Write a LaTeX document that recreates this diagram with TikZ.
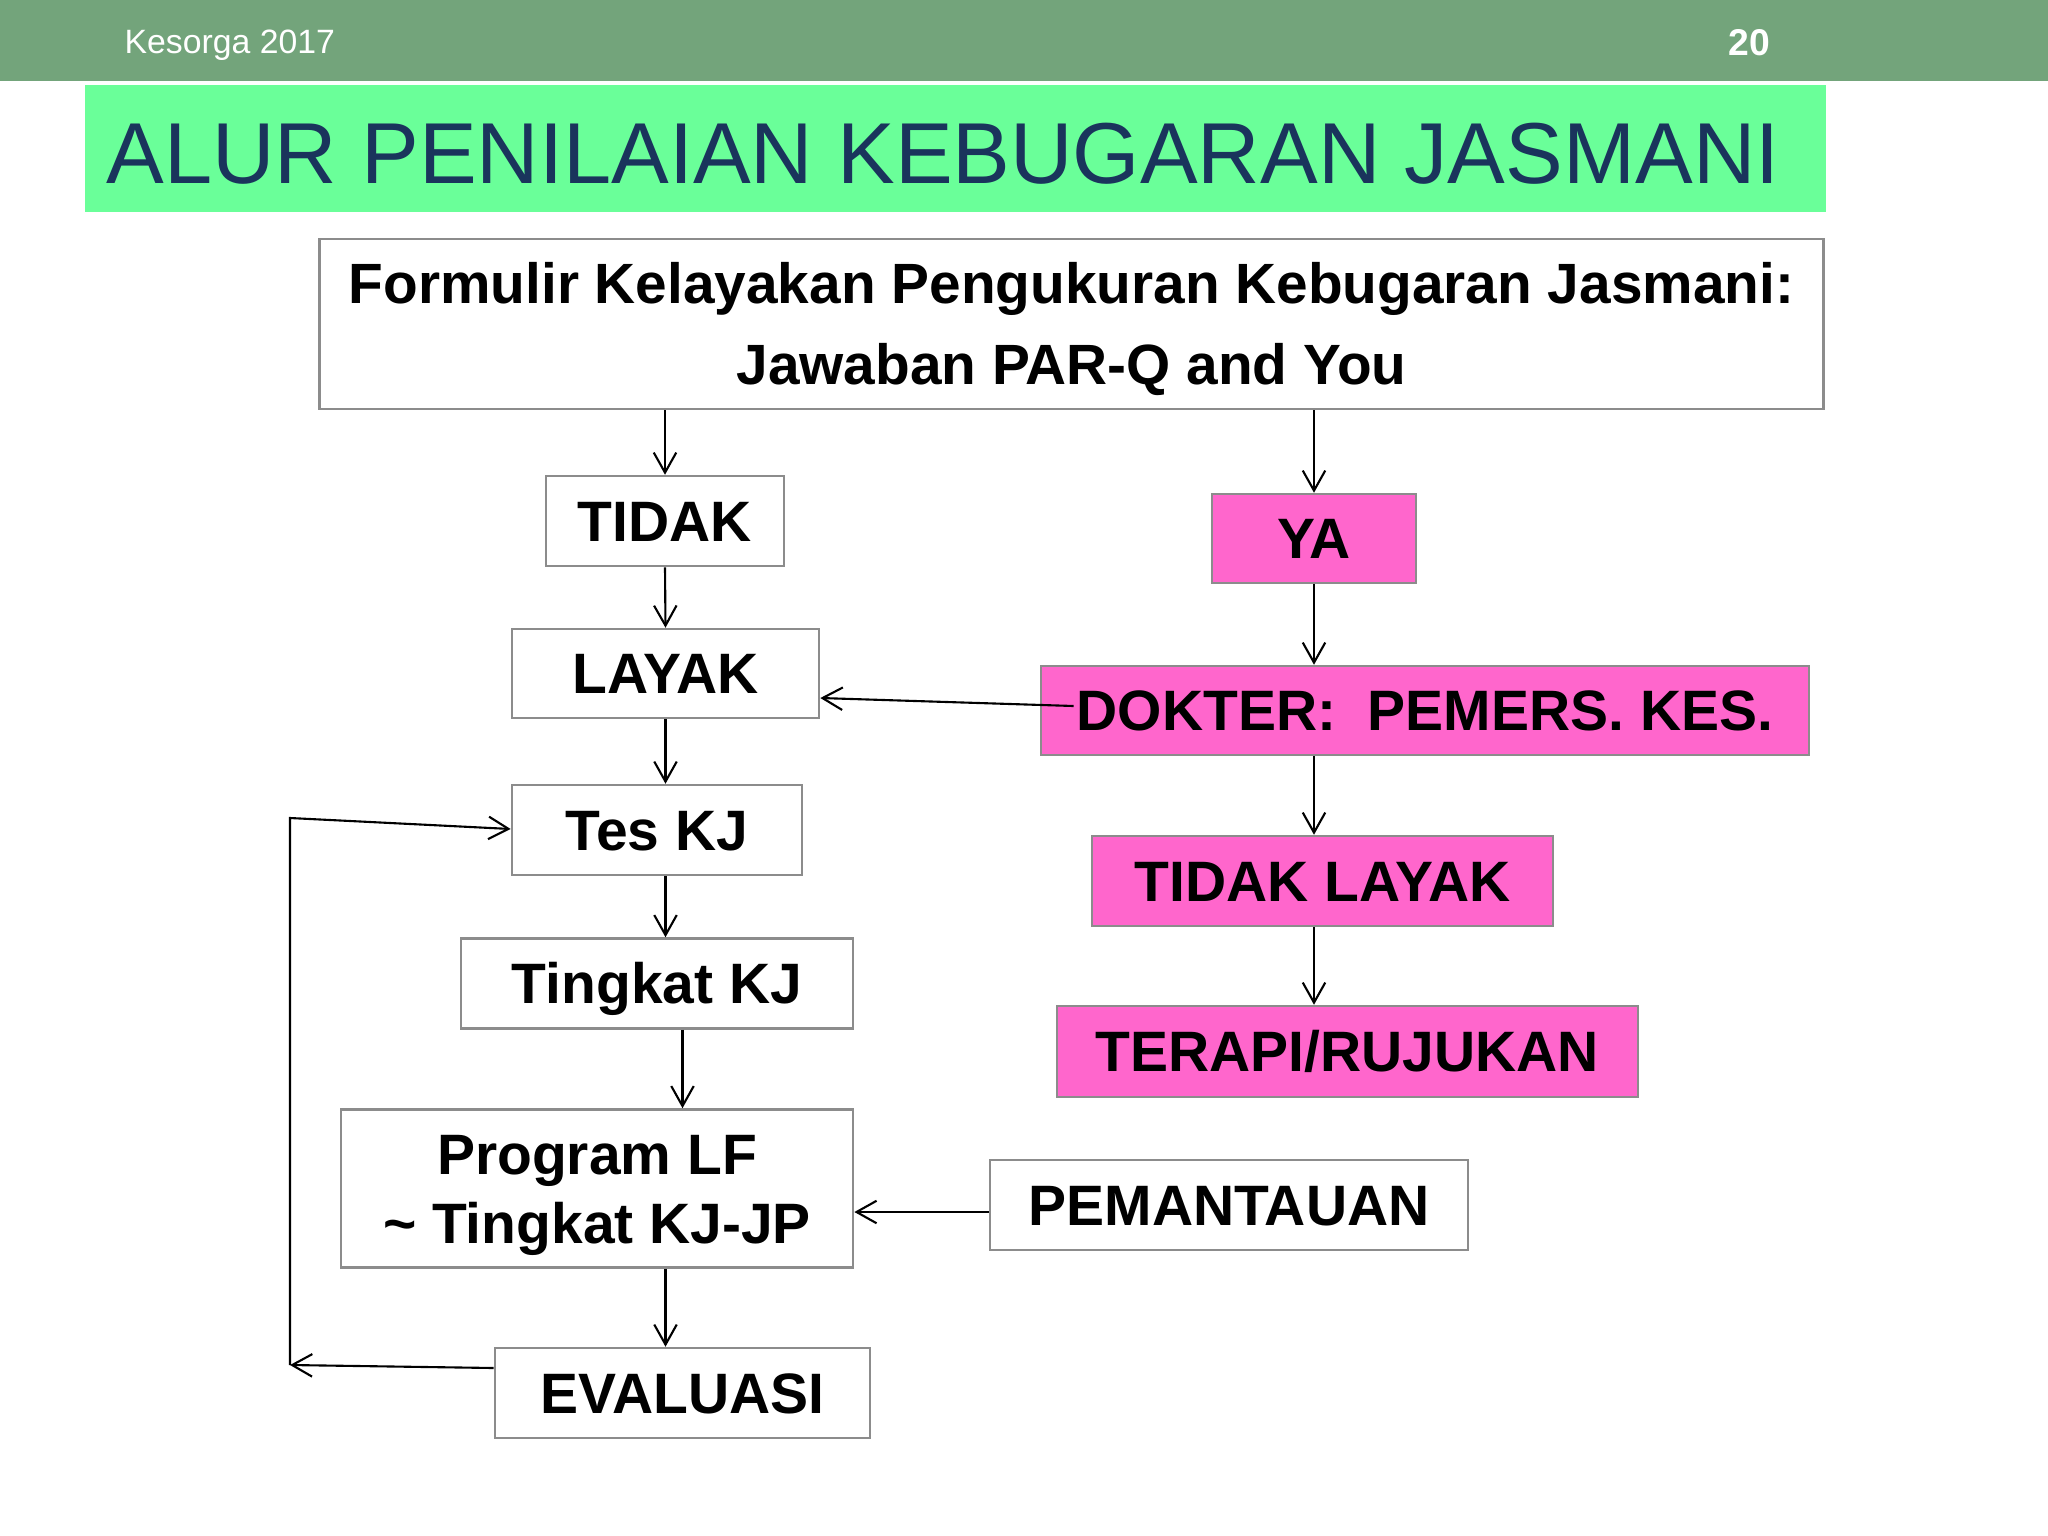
\documentclass[tikz,border=0pt]{standalone}
\usepackage{fontspec}
\setmainfont{Liberation Sans}
\usepackage{tikz}
\usetikzlibrary{arrows.meta, calc}
\usepackage{xcolor}
\definecolor{barGreen}{RGB}{115,164,123}
\definecolor{titleGreen}{RGB}{106,255,153}
\definecolor{titleNavy}{RGB}{26,52,92}
\definecolor{boxPink}{RGB}{255,102,204}
\definecolor{boxGray}{RGB}{140,140,140}

\begin{document}
\begin{tikzpicture}[
    x=0.01cm, y=-0.01cm,
    box/.style={draw=boxGray, line width=0.7pt, inner sep=0pt,
        font=\fontsize{16.2pt}{19pt}\bfseries\selectfont},
    oneline/.style={box, text height=11.6pt, text depth=0pt},
    pinkbox/.style={oneline, fill=boxPink},
    flow/.style={-{Straight Barb[length=5.7pt, width=6.4pt]}, line width=0.6pt}
]
    \useasboundingbox (0,0) rectangle (2048,1536);

    % Header bar and title
    \fill[barGreen] (0,0) rectangle (2048,81);
    \node[anchor=base west, inner sep=0pt, text=white,
        font=\fontsize{9.6pt}{11pt}\selectfont] (kesorga) at (124,53) {Kesorga 2017};
    \node[anchor=base east, inner sep=0pt, text=white,
        font=\fontsize{10.6pt}{12pt}\bfseries\selectfont] (halaman) at (1771,55) {20};
    \fill[titleGreen] (85,85) rectangle (1826,212);
    \node[anchor=base west, inner sep=0pt, text=titleNavy,
        font=\fontsize{24.6pt}{28pt}\selectfont] (judul) at (106,183) {ALUR PENILAIAN KEBUGARAN JASMANI};

    % Boxes
    \node[box, align=center, minimum width=15.03cm, minimum height=1.70cm,
        font=\fontsize{16.15pt}{23pt}\bfseries\selectfont, text height=34.6pt, text depth=0pt]
        (form) at (1071.5,324) {Formulir Kelayakan Pengukuran Kebugaran Jasmani:\\Jawaban PAR-Q and You};
    \node[oneline, minimum width=2.38cm, minimum height=0.90cm] (tidak) at (665,521) {TIDAK};
    \node[oneline, minimum width=3.07cm, minimum height=0.89cm] (layak) at (665.5,673.5) {LAYAK};
    \node[oneline, minimum width=2.90cm, minimum height=0.90cm] (tes) at (657,830) {Tes KJ};
    \node[oneline, minimum width=3.92cm, minimum height=0.90cm] (tingkat) at (657,983.5) {Tingkat KJ};
    \node[box, align=center, minimum width=5.12cm, minimum height=1.58cm,
        font=\fontsize{16.2pt}{19.6pt}\bfseries\selectfont, text height=31.2pt, text depth=0pt]
        (program) at (597,1188.5) {Program LF\\\textasciitilde{} Tingkat KJ-JP};
    \node[oneline, minimum width=3.75cm, minimum height=0.90cm] (evaluasi) at (682.5,1393) {EVALUASI};
    \node[pinkbox, minimum width=2.04cm, minimum height=0.89cm] (ya) at (1314,538.5) {YA};
    \node[pinkbox, minimum width=7.68cm, minimum height=0.89cm] (dokter) at (1425,710.5) {DOKTER:\ \ PEMERS. KES.};
    \node[pinkbox, minimum width=4.61cm, minimum height=0.90cm] (tidaklayak) at (1322.5,881) {TIDAK LAYAK};
    \node[pinkbox, minimum width=5.81cm, minimum height=0.91cm] (terapi) at (1347.5,1051.5) {TERAPI/RUJUKAN};
    \node[oneline, minimum width=4.78cm, minimum height=0.90cm] (pemantauan) at (1229,1205) {PEMANTAUAN};

    % Left column
    \draw[flow] (form.south -| tidak) -- (tidak.north);
    \draw[flow] (tidak.south) -- (layak.north);
    \draw[flow] (layak.south) -- (layak.south |- tes.north);
    \draw[flow] (tes.south -| layak) -- (tingkat.north -| layak);
    \draw[flow] (tingkat.south -| evaluasi) -- (program.north -| evaluasi);
    \draw[flow] (program.south -| layak) -- (evaluasi.north -| layak);

    % Right column
    \draw[flow] (form.south -| ya) -- (ya.north);
    \draw[flow] (ya.south) -- (dokter.north -| ya);
    \draw[flow] (dokter.south -| ya) -- (tidaklayak.north -| ya);
    \draw[flow] (tidaklayak.south -| ya) -- (terapi.north -| ya);

    % Cross links
    \draw[flow] ($(dokter.west)+(34,-4.5)$) -- ($(layak.east)+(0,24.5)$);
    \draw[flow] ($(pemantauan.west)+(0,7)$) -- ($(program.east)+(0,23.5)$);

    % Feedback loop
    \coordinate (kiribawah) at (290,1365);
    \coordinate (kiriatas) at (290,818);
    \draw[flow] ($(evaluasi.west)+(0,-25)$) -- (kiribawah);
    \draw[flow] (kiribawah) -- (kiriatas) -- ($(tes.west)+(0,-1)$);
\end{tikzpicture}
\end{document}
